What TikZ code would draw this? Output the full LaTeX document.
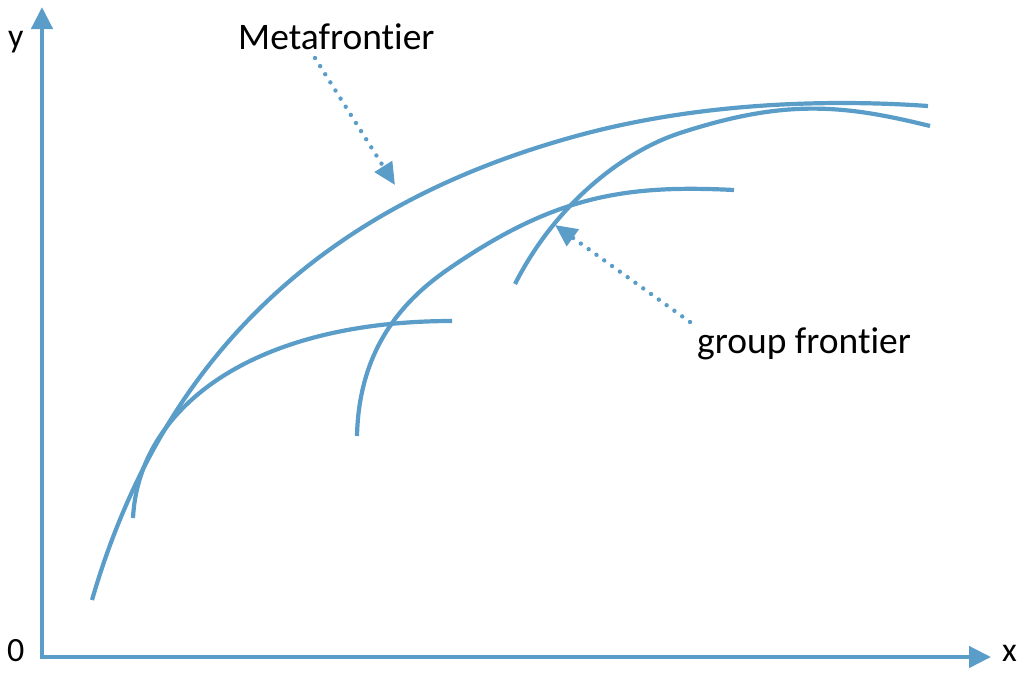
\documentclass[tikz,border=0pt]{standalone}
\usepackage{fontspec}
\setmainfont{Carlito}[RawFeature={-liga;-clig}]
\usetikzlibrary{arrows.meta}
\definecolor{lineblue}{RGB}{90,157,200}
\tikzset{
  curve/.style={draw=lineblue, line width=4.2pt, line cap=butt},
  axisline/.style={draw=lineblue, line width=4.5pt, -{Triangle[length=22pt,width=21pt]}},
  pointer/.style={draw=lineblue, line width=4.4pt, dash pattern=on 0pt off 9.6pt, line cap=round, -{Triangle[length=22pt,width=20pt]}},
  lbl/.style={inner sep=0pt, anchor=base west, font=\fontsize{37.5}{44}\selectfont},
  axlbl/.style={inner sep=0pt, anchor=base west, font=\fontsize{34}{40}\selectfont}
}
\begin{document}
\begin{tikzpicture}[x=1pt,y=-1pt]
\useasboundingbox (0,0) rectangle (1024,673);
% axes
\coordinate (o) at (42,657);
\coordinate (ytip) at (42,7);
\coordinate (xtip) at (991,657);
\draw[axisline] ([yshift=2pt]o) -- (ytip);
\draw[axisline] ([xshift=-2pt]o) -- (xtip);
\node[axlbl] (ylab) at (8,47) {y};
\node[axlbl] (zlab) at (7,661) {0};
\node[axlbl] (xlab) at (1002,661) {x};
% metafrontier
\draw[curve] (92,600) .. controls (164.5,350) and (330,202.5) .. (580,135)
                      .. controls (700,102.6) and (828,99) .. (928,106);
% group frontiers
\draw[curve] (133,518) .. controls (138.5,408) and (252,321) .. (452,321);
\draw[curve] (357,436) .. controls (359,345) and (407,298) .. (447,270)
                       .. controls (553.6,196) and (624,184.5) .. (734,190);
\draw[curve] (515,284) .. controls (555.5,204) and (623,151.6) .. (680,133)
                       .. controls (784.5,98.9) and (842.7,104.4) .. (930,126);
% labels
\node[lbl] (meta) at (238,49) {Metafrontier};
\node[lbl] (group) at (697,353) {group frontier};
\coordinate (metafrom) at (315,58);
\coordinate (metato) at (395,185);
\coordinate (groupfrom) at (690,322);
\coordinate (groupto) at (555,225);
\draw[pointer] (metafrom) -- (metato);
\draw[pointer] (groupfrom) -- (groupto);
\end{tikzpicture}
\end{document}
